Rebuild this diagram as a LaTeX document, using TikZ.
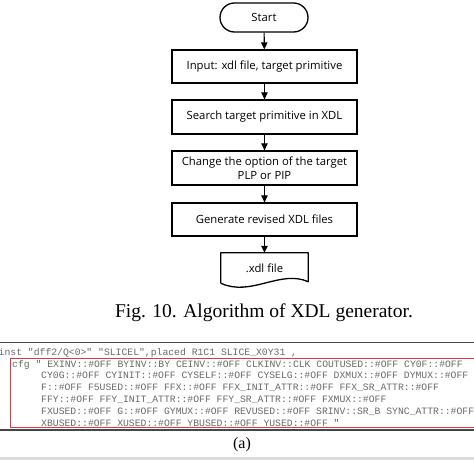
\documentclass[tikz,border=0pt]{standalone}
\usepackage{fontspec}
\setmainfont{Liberation Serif}
\setsansfont{Open Sans}
\setmonofont{Liberation Mono}
\usetikzlibrary{arrows.meta,calc}
\definecolor{codegray}{RGB}{105,105,105}
\definecolor{boxred}{RGB}{228,52,64}
\definecolor{rulegray}{RGB}{70,70,70}
\definecolor{bandgray}{RGB}{220,220,220}
\tikzset{
  flowbox/.style={draw=black, line width=1.3pt, minimum width=185pt, minimum height=33pt,
    inner sep=0pt, font=\sffamily\fontsize{11.3}{14}\selectfont, align=center},
  termbox/.style={draw=black, line width=1.3pt, rounded corners=14.5pt, minimum width=88pt,
    minimum height=29pt, inner sep=0pt, font=\sffamily\fontsize{11.3}{14}\selectfont},
  docbox/.style={minimum width=87pt, minimum height=30pt, inner sep=0pt,
    font=\sffamily\fontsize{11.3}{14}\selectfont},
  flowarrow/.style={draw=black, line width=1.1pt, -{Triangle[length=7pt,width=6.5pt]}},
  codeline/.style={anchor=base west, inner sep=0pt, text=codegray,
    font=\ttfamily\fontsize{9.75}{11}\selectfont},
}
\begin{document}
\begin{tikzpicture}[x=1pt,y=-1pt]
\clip (0,0) rectangle (474,460);
\fill[white] (0,0) rectangle (474,460);
% flowchart
\node[termbox] (start) at (264,17.5) {Start};
\node[flowbox] (b1) at (264.5,66.5) {Input: xdl file, target primitive};
\node[flowbox, minimum height=34pt] (b2) at (264.5,117) {Search target primitive in XDL};
\node[flowbox, minimum height=34pt] (b3) at (264.5,168) {Change the option of the target\\PLP or PIP};
\node[flowbox] (b4) at (264.5,219.5) {Generate revised XDL files};
\node[docbox] (doc) at (264.5,268) {.xdl file};
\draw[line width=1.3pt, line join=round]
  (doc.south west) -- (doc.north west) -- (doc.north east) -- ($(doc.south east)+(0,-1.5)$)
  .. controls ($(doc.south east)+(-28,-14)$) and ($(doc.south west)+(30,14)$) .. (doc.south west);
\draw[flowarrow] (start) -- (b1);
\draw[flowarrow] (b1) -- (b2);
\draw[flowarrow] (b2) -- (b3);
\draw[flowarrow] (b3) -- (b4);
\draw[flowarrow] (b4) -- (doc);
\node[anchor=base, inner sep=0pt, font=\fontsize{19.5}{22}\selectfont] (cap) at (264,317) {Fig. 10. Algorithm of XDL generator.};
% code panel
\coordinate (rt1) at (0,342.5);
\coordinate (rt2) at (474,342.5);
\coordinate (rb1) at (0,430);
\coordinate (rb2) at (474,430);
\draw[rulegray, line width=1.6pt] (rt1) -- (rt2);
\draw[rulegray, line width=1.6pt] (rb1) -- (rb2);
\node[codeline] (c1) at (-1.5,355.5) {inst "dff2/Q<0>" "SLICEL",placed R1C1 SLICE\_X0Y31  ,};
\node[codeline] (c2) at (12,367) {cfg " EXINV::\#OFF BYINV::BY CEINV::\#OFF CLKINV::CLK COUTUSED::\#OFF CY0F::\#OFF};
\node[codeline] (c3) at (41,378.8) {CY0G::\#OFF CYINIT::\#OFF CYSELF::\#OFF CYSELG::\#OFF DXMUX::\#OFF DYMUX::\#OFF};
\node[codeline] (c4) at (41,390.6) {F::\#OFF F5USED::\#OFF FFX::\#OFF FFX\_INIT\_ATTR::\#OFF FFX\_SR\_ATTR::\#OFF};
\node[codeline] (c5) at (41,402.4) {FFY::\#OFF FFY\_INIT\_ATTR::\#OFF FFY\_SR\_ATTR::\#OFF FXMUX::\#OFF};
\node[codeline] (c6) at (41,414.2) {FXUSED::\#OFF G::\#OFF GYMUX::\#OFF REVUSED::\#OFF SRINV::SR\_B SYNC\_ATTR::\#OFF};
\node[codeline] (c7) at (41,426) {XBUSED::\#OFF XUSED::\#OFF YBUSED::\#OFF YUSED::\#OFF "};
\draw[boxred, line width=1.3pt] (480,358.3) -- (10.5,358.3) -- (10.5,427.8) -- (480,427.8);
\node[font=\fontsize{16}{18}\selectfont] (lbl) at (242,445) {(a)};
\fill[bandgray] (0,456.7) rectangle (474,460);
\end{tikzpicture}
\end{document}
